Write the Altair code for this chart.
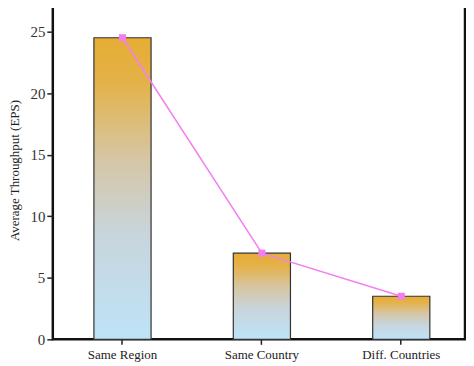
import altair as alt
import pandas as pd

categories = ["Same Region", "Same Country", "Diff. Countries"]
throughput = [24.5, 7.0, 3.5]
y_ticks = [0, 2.5, 5, 7.5, 10, 12.5, 15, 17.5, 20, 22.5, 25]

df = pd.DataFrame({"cat": categories, "val": throughput})

FONT = "Liberation Serif"
x_enc = alt.X("cat:N", sort=categories, title=None,
              scale=alt.Scale(paddingInner=0.59, paddingOuter=0.2736, align=0.539),
              axis=alt.Axis(labelAngle=0, labelFontSize=13, labelFont=FONT,
                            labelColor="#222", tickSize=5, tickWidth=1.5,
                            tickColor="#222", labelPadding=4, domain=False))
y_enc = alt.Y("val:Q", title="Average Throughput (EPS)",
              scale=alt.Scale(domain=[0, 27.5], nice=False),
              axis=alt.Axis(values=y_ticks,
                            labelExpr="datum.value % 5 == 0 ? datum.value : ''",
                            tickSize={"condition": {"test": "datum.value % 5 == 0", "value": 6}, "value": 3},
                            tickWidth=1.5, tickColor="#222",
                            labelFontSize=15, labelFont=FONT, labelColor="#333",
                            titleFont=FONT, titleFontSize=13, titleFontWeight="normal",
                            titleColor="#222", titlePadding=8, grid=False, domain=False))

grad = alt.Gradient(gradient="linear", x1=0, y1=1, x2=0, y2=0,
                    stops=[alt.GradientStop(color="#bde3f8", offset=0),
                           alt.GradientStop(color="#c8d5dc", offset=0.35),
                           alt.GradientStop(color="#d6c6a4", offset=0.6),
                           alt.GradientStop(color="#e4b24a", offset=0.85),
                           alt.GradientStop(color="#e6ad33", offset=1)])

bars = alt.Chart(df).mark_bar(fill=grad, stroke="#333", strokeWidth=1.2).encode(x=x_enc, y=y_enc)
line = alt.Chart(df).mark_line(color="#f27ff0", strokeWidth=1.5).encode(x=alt.X("cat:N", sort=categories), y="val:Q")
pts = alt.Chart(df).mark_square(color="#f27ff0", size=50, opacity=1).encode(x=alt.X("cat:N", sort=categories), y="val:Q")

chart = (bars + line + pts).properties(
    width=414, height=340, background="white",
    padding={"left": 1, "top": -8, "right": 1, "bottom": 0},
).configure_view(stroke="#111", strokeWidth=2.5)

chart.save("out.html", embed_options={"renderer": "svg", "actions": False})
